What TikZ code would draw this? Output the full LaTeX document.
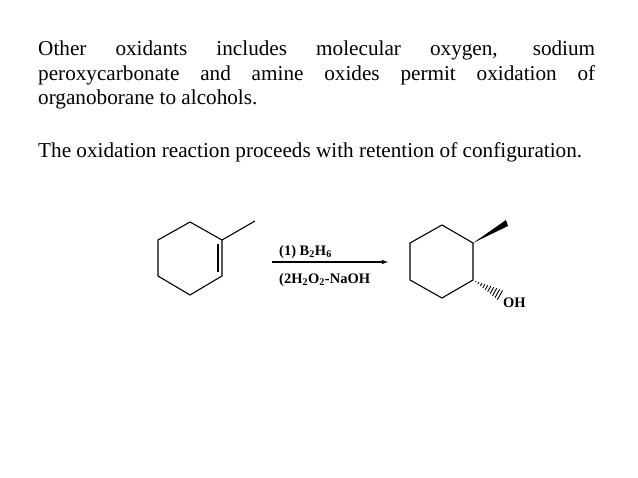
\documentclass[tikz,border=0pt]{standalone}
\usepackage{fontspec}
\usetikzlibrary{calc}
\setmainfont{Liberation Serif}
\begin{document}
\begin{tikzpicture}[x=1pt,y=-1pt,bond/.style={line width=1.1pt},lab/.style={font=\fontsize{14.5}{16}\selectfont\bfseries,anchor=west,inner sep=0}]
\useasboundingbox[fill=white] (0,0) rectangle (638,478);
\node[anchor=north west,inner sep=0,text width=557pt,align=justify,font=\fontsize{21.2}{24.5}\selectfont] (p1) at (38,41) {Other oxidants includes molecular oxygen, sodium\linebreak peroxycarbonate and amine oxides permit oxidation of\linebreak organoborane to alcohols.};
\node[anchor=north west,inner sep=0,font=\fontsize{21.2}{24.5}\selectfont] (p2) at (38,142) {The oxidation reaction proceeds with retention of configuration.};
% left
\coordinate (a1) at (190,222);\coordinate (a2) at (222,240);\coordinate (a3) at (222,276);
\coordinate (a4) at (190,295);\coordinate (a5) at (158,276);\coordinate (a6) at (158,240);
\coordinate (am) at (255,221);
\draw[bond] (a1)--(a2)--(a3)--(a4)--(a5)--(a6)--cycle (a2)--(am);
\draw[bond] (218,244)--(218,272);
% arrow
\coordinate (r1) at (272,262);\coordinate (r2) at (388,262);
\draw[bond,-latex] (r1)--(r2);
\node[lab] (t1) at (279,252) {(1) B$_\mathbf{2}$H$_\mathbf{6}$};
\node[lab] (t2) at (279,280) {(2H$_\mathbf{2}$O$_\mathbf{2}$-NaOH};
% right
\coordinate (b1) at (442,225);\coordinate (b2) at (473,243);\coordinate (b3) at (473,280);
\coordinate (b4) at (442,298);\coordinate (b5) at (410,280);\coordinate (b6) at (410,243);
\draw[bond] (b1)--(b2)--(b3)--(b4)--(b5)--(b6)--cycle;
\fill (b2)--(506,220)--(508,226)--cycle;
\foreach \t in {0.1,0.2,...,1.0}
  \draw[line width=0.9pt] ($(b3)!\t!(500,295)+(-2.6*\t,4.6*\t)$)--($(b3)!\t!(500,295)-(-2.6*\t,4.6*\t)$);
\node[lab] (oh) at (503,303) {OH};
\end{tikzpicture}
\end{document}
